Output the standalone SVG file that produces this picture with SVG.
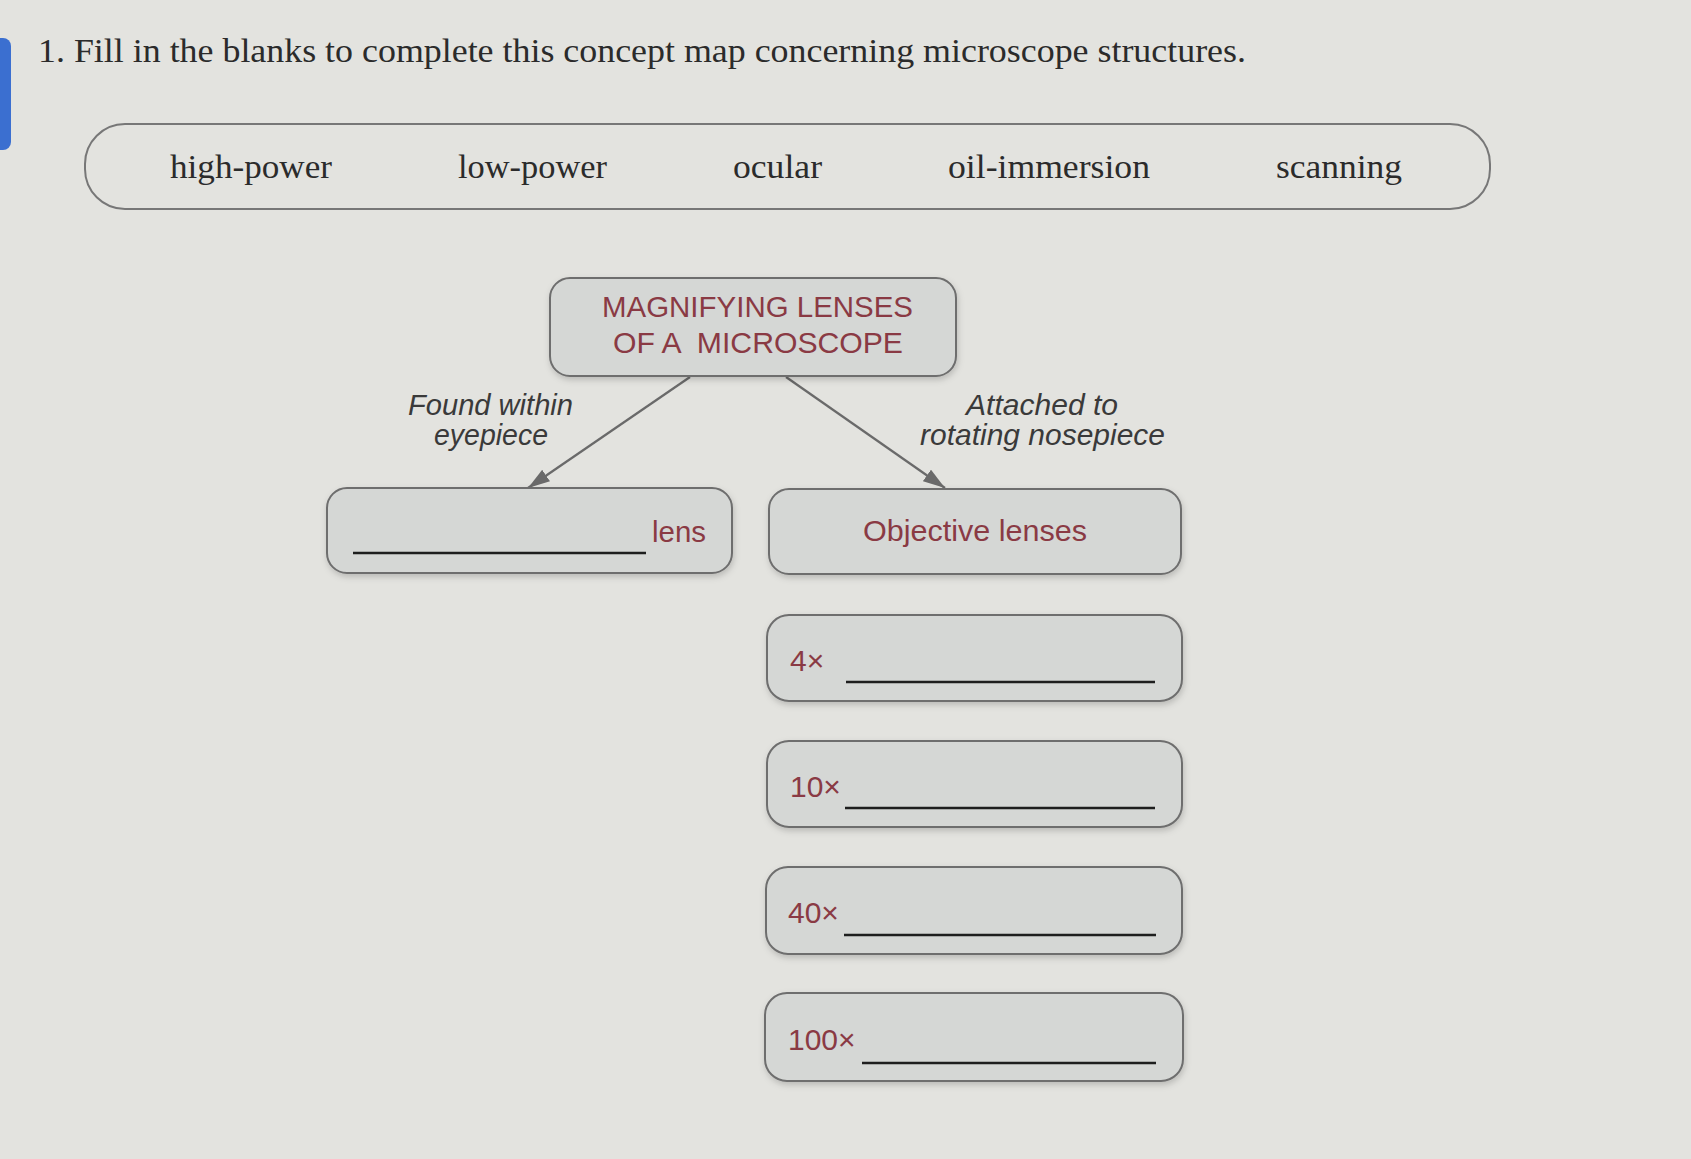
<svg xmlns="http://www.w3.org/2000/svg" width="1691" height="1159" viewBox="0 0 1691 1159">
<defs>
<style>
.serif{font-family:"Liberation Serif","Times New Roman",serif;fill:#2b2b2b}
.node{fill:#d5d7d5;stroke:#6e6e6e;stroke-width:2}
.ntext{font-family:"Liberation Sans",Arial,sans-serif;font-size:30px;fill:#8a3a44}
.lbl{font-family:"Liberation Sans",Arial,sans-serif;font-size:30px;font-style:italic;fill:#3a3a3a}
.blank{stroke:#1e1e1e;stroke-width:2.5}
.conn{stroke:#6a6a6a;stroke-width:2.2;fill:none}
</style>
<marker id="ah" markerUnits="userSpaceOnUse" markerWidth="24" markerHeight="14" refX="22" refY="7" orient="auto">
<path d="M0,0 L22,7 L0,14 z" fill="#6a6a6a"/>
</marker>
<filter id="sh" x="-5%" y="-10%" width="110%" height="130%">
<feDropShadow dx="1" dy="3" stdDeviation="3" flood-color="#000" flood-opacity="0.18"/>
</filter>
</defs>
<rect x="0" y="0" width="1691" height="1159" fill="#e3e3df"/>
<rect x="-10" y="38" width="21" height="112" rx="8" fill="#3b6fd0"/>
<text id="title" class="serif" x="38" y="62" font-size="33" textLength="1208" lengthAdjust="spacingAndGlyphs">1. Fill in the blanks to complete this concept map concerning microscope structures.</text>
<g id="wordbank">
<rect x="85" y="124" width="1405" height="85" rx="40" fill="none" stroke="#777" stroke-width="2"/>
<text class="serif" font-size="34" y="178" x="170" textLength="162" lengthAdjust="spacingAndGlyphs">high-power</text>
<text class="serif" font-size="34" y="178" x="458" textLength="149" lengthAdjust="spacingAndGlyphs">low-power</text>
<text class="serif" font-size="34" y="178" x="733" textLength="89" lengthAdjust="spacingAndGlyphs">ocular</text>
<text class="serif" font-size="34" y="178" x="948" textLength="202" lengthAdjust="spacingAndGlyphs">oil-immersion</text>
<text class="serif" font-size="34" y="178" x="1276" textLength="126" lengthAdjust="spacingAndGlyphs">scanning</text>
</g>
<g id="connectors">
<line class="conn" x1="690" y1="377" x2="528" y2="488" marker-end="url(#ah)"/>
<line class="conn" x1="786" y1="377" x2="945" y2="488" marker-end="url(#ah)"/>
<text class="lbl" x="408" y="415" textLength="165" lengthAdjust="spacingAndGlyphs">Found within</text>
<text class="lbl" x="434" y="445" textLength="114" lengthAdjust="spacingAndGlyphs">eyepiece</text>
<text class="lbl" x="966" y="415" textLength="152" lengthAdjust="spacingAndGlyphs">Attached to</text>
<text class="lbl" x="920" y="445" textLength="245" lengthAdjust="spacingAndGlyphs">rotating nosepiece</text>
</g>
<g id="root">
<rect class="node" filter="url(#sh)" x="550" y="278" width="406" height="98" rx="20"/>
<text class="ntext" x="602" y="317" textLength="311" lengthAdjust="spacingAndGlyphs">MAGNIFYING LENSES</text>
<text class="ntext" x="613" y="353" textLength="290" lengthAdjust="spacingAndGlyphs" xml:space="preserve">OF A  MICROSCOPE</text>
</g>
<g id="ocular">
<rect class="node" filter="url(#sh)" x="327" y="488" width="405" height="85" rx="20"/>
<line class="blank" x1="353" y1="553" x2="646" y2="553"/>
<text class="ntext" x="652" y="542" textLength="54" lengthAdjust="spacingAndGlyphs">lens</text>
</g>
<g id="objective">
<rect class="node" filter="url(#sh)" x="769" y="489" width="412" height="85" rx="20"/>
<text class="ntext" x="863" y="541" textLength="224" lengthAdjust="spacingAndGlyphs">Objective lenses</text>
</g>
<g id="obj4">
<rect class="node" filter="url(#sh)" x="767" y="615" width="415" height="86" rx="22"/>
<text class="ntext" x="790" y="671">4×</text>
<line class="blank" x1="846" y1="682" x2="1155" y2="682"/>
</g>
<g id="obj10">
<rect class="node" filter="url(#sh)" x="767" y="741" width="415" height="86" rx="22"/>
<text class="ntext" x="790" y="797">10×</text>
<line class="blank" x1="845" y1="808" x2="1155" y2="808"/>
</g>
<g id="obj40">
<rect class="node" filter="url(#sh)" x="766" y="867" width="416" height="87" rx="22"/>
<text class="ntext" x="788" y="923">40×</text>
<line class="blank" x1="844" y1="935" x2="1156" y2="935"/>
</g>
<g id="obj100">
<rect class="node" filter="url(#sh)" x="765" y="993" width="418" height="88" rx="22"/>
<text class="ntext" x="788" y="1050">100×</text>
<line class="blank" x1="862" y1="1063" x2="1156" y2="1063"/>
</g>
</svg>
